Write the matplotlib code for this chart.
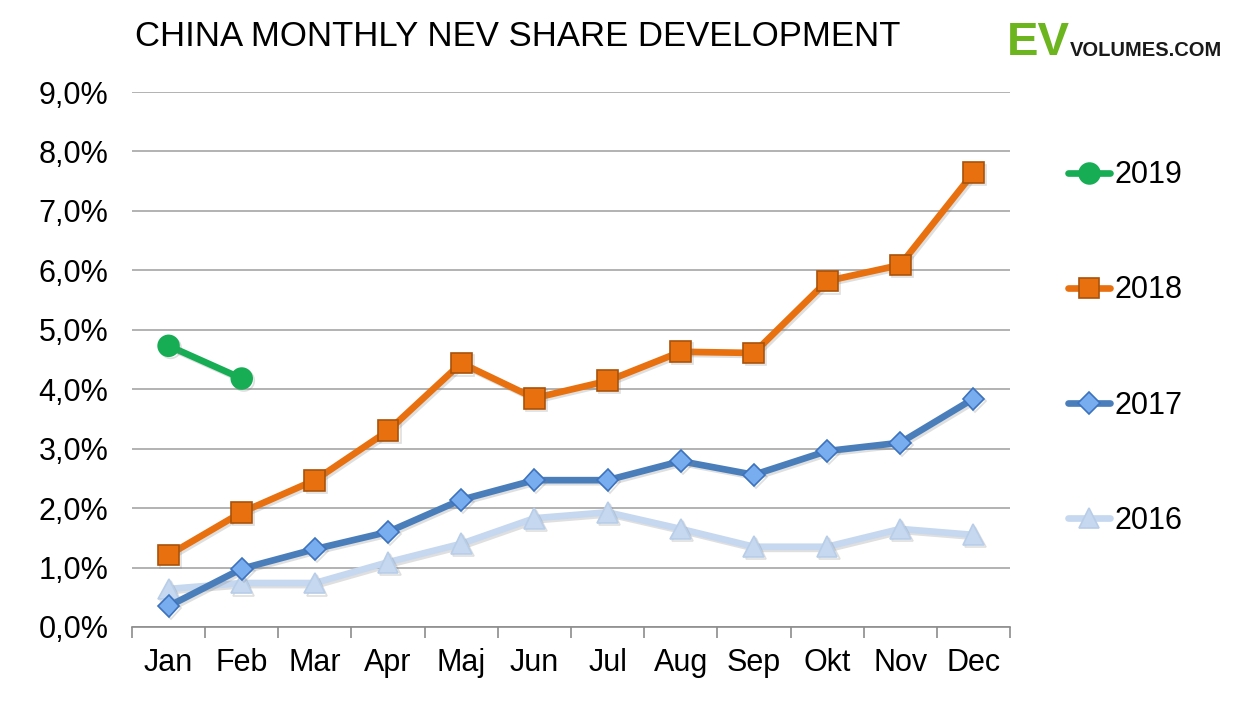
import matplotlib
matplotlib.use("Agg")
import matplotlib.pyplot as plt
from matplotlib.lines import Line2D
import matplotlib.patheffects as pe

plt.rcParams['font.family'] = ['Liberation Sans', 'DejaVu Sans']

months = ["Jan", "Feb", "Mar", "Apr", "Maj", "Jun", "Jul", "Aug", "Sep", "Okt", "Nov", "Dec"]
s2019 = [4.73, 4.18]
s2018 = [1.21, 1.93, 2.47, 3.30, 4.44, 3.85, 4.14, 4.63, 4.61, 5.82, 6.09, 7.64]
s2017 = [0.35, 0.98, 1.31, 1.60, 2.14, 2.47, 2.47, 2.79, 2.56, 2.96, 3.10, 3.84]
s2016 = [0.64, 0.74, 0.74, 1.09, 1.40, 1.83, 1.93, 1.65, 1.35, 1.35, 1.65, 1.55]
yticks = [0, 1, 2, 3, 4, 5, 6, 7, 8, 9]
ytick_labels = ["0,0%", "1,0%", "2,0%", "3,0%", "4,0%", "5,0%", "6,0%", "7,0%", "8,0%", "9,0%"]

fig = plt.figure(figsize=(12.39, 7.12), dpi=100)
ax = fig.add_axes([132/1239, 1-627/712, (1010-132)/1239, (627-92)/712])

x = list(range(len(months)))
shadow = [pe.SimpleLineShadow(offset=(1.5, -1.5), alpha=0.25, shadow_color='gray'), pe.Normal()]

styles = {
    "2016": dict(color="#c5d8ef", marker="^", ms=15, mfc="#c5d8ef", mec="#b8cde8"),
    "2017": dict(color="#4a7ebb", marker="D", ms=11, mfc="#78aef0", mec="#3d72bd"),
    "2018": dict(color="#e8700e", marker="s", ms=15, mfc="#e8700e", mec="#a9520b"),
    "2019": dict(color="#17ad55", marker="o", ms=15, mfc="#17ad55", mec="#17ad55"),
}
data = {"2016": s2016, "2017": s2017, "2018": s2018, "2019": s2019}

for name in ["2016", "2017", "2018", "2019"]:
    vals = data[name]
    st = styles[name]
    ax.plot(x[:len(vals)], vals, lw=4.8, solid_capstyle='round', mew=1.2,
            path_effects=shadow, zorder=3, **st)

ax.set_xlim(-0.5, 11.5)
ax.set_ylim(0, 9)
ax.set_yticks(yticks)
ax.set_yticklabels(ytick_labels, fontsize=22)
ax.set_xticks(x)
ax.set_xticklabels(months, fontsize=22)
ax.set_xticks([i - 0.5 for i in range(13)], minor=True)
ax.tick_params(axis='x', which='major', length=0, pad=15)
ax.tick_params(axis='x', which='minor', length=8, width=1.2, color='#8c8c8c')
ax.tick_params(axis='y', length=0, pad=17)
ax.grid(axis='y', color='#a6a6a6', lw=1.2, zorder=0)
for sp in ['top', 'right', 'left']:
    ax.spines[sp].set_visible(False)
ax.spines['bottom'].set_color('#8c8c8c')
ax.spines['bottom'].set_linewidth(1.2)
ax.set_axisbelow(True)

handles = []
labels = []
for name in ["2019", "2018", "2017", "2016"]:
    st = styles[name]
    handles.append(Line2D([], [], lw=4.8, solid_capstyle='round', mew=1.2, **st))
    labels.append(name)
fig.legend(handles, labels, loc='upper left', bbox_to_anchor=(1056/1239, 1-148/712),
           frameon=False, fontsize=22, labelspacing=2.79, handlelength=1.38,
           handletextpad=0.12, borderaxespad=0, numpoints=1)

fig.text(135/1239, 1-37/712, "CHINA MONTHLY NEV SHARE DEVELOPMENT", fontsize=25,
         va='center', ha='left', color='black')
fig.text(1007/1239, 1-43/712, "EV", fontsize=34, fontweight='bold', color='#6db51e',
         va='center', ha='left')
fig.text(1070/1239, 1-51/712, "VOLUMES.COM", fontsize=14.5, fontweight='bold', color='#1a1a1a',
         va='center', ha='left')

fig.savefig("out.png", dpi=100)
